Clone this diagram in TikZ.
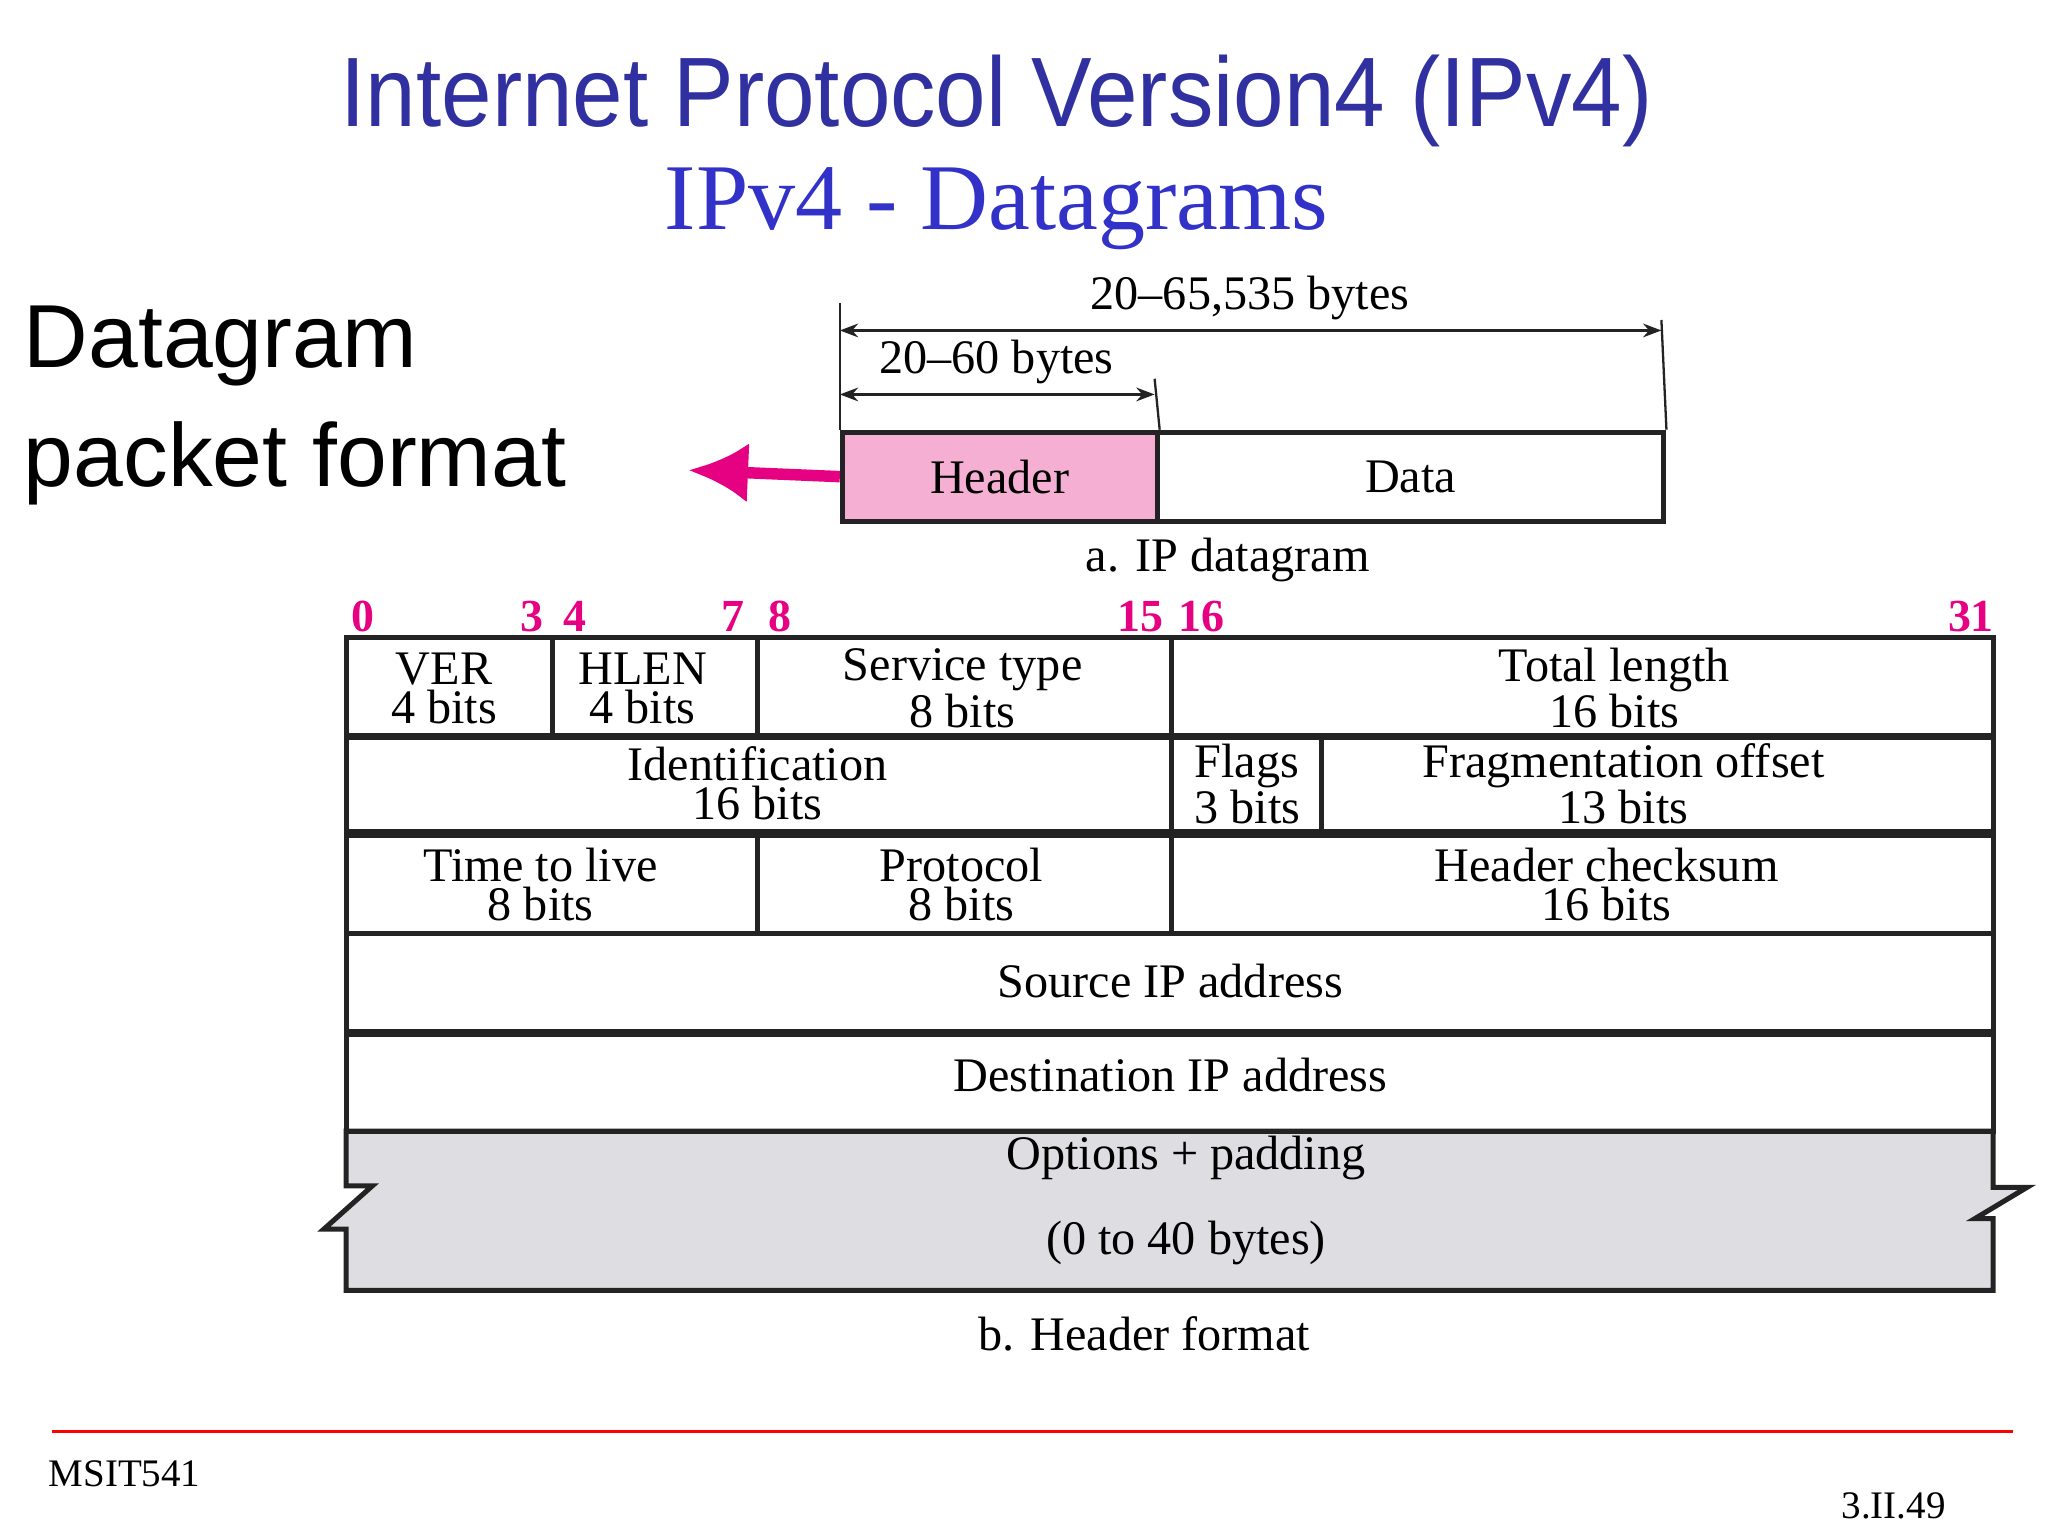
\documentclass[tikz,border=0pt]{standalone}
\usepackage{fontspec}
\usetikzlibrary{arrows.meta}
\setmainfont{Liberation Serif}
\setsansfont{Liberation Sans}
\definecolor{ttl}{RGB}{48,48,160}
\definecolor{sub}{RGB}{50,50,200}
\definecolor{mag}{RGB}{230,0,130}
\definecolor{pinkf}{RGB}{245,175,210}
\definecolor{grayf}{RGB}{222,222,226}
\definecolor{edge}{RGB}{35,35,35}
\tikzset{
  txt/.style={font=\fontsize{21}{17}\selectfont, align=center, inner sep=0pt},
  bitn/.style={font=\fontsize{20}{20}\selectfont\bfseries, text=mag, inner sep=0pt},
  cell/.style={draw=edge, line width=2.2pt},
  dim/.style={{Stealth[length=8pt]}-{Stealth[length=8pt]}, line width=1pt, draw=edge},
  tick/.style={line width=1pt, draw=edge}
}
\begin{document}
\begin{tikzpicture}[x=0.02cm,y=-0.02cm]
\useasboundingbox (0,0) rectangle (1568,1176);
% titles
\node[text=ttl, font=\sffamily\fontsize{43}{43}\selectfont] (title) at (763,77) {\scalebox{0.92}[1]{Internet Protocol Version4 (IPv4)}};
\node[text=sub, font=\fontsize{41}{41}\selectfont] (subtitle) at (763,160) {IPv4 - Datagrams};
\node[anchor=west, font=\sffamily\fontsize{39}{39}\selectfont, inner sep=0pt] (lbl1) at (18,265) {Datagram};
\node[anchor=west, font=\sffamily\fontsize{39}{39}\selectfont, inner sep=0pt] (lbl2) at (18,355) {packet format};
% datagram
\node[cell, fill=pinkf, minimum width=241*0.02cm, minimum height=68*0.02cm, anchor=north west, txt] (hdr) at (643,329) {Header};
\node[cell, minimum width=388*0.02cm, minimum height=68*0.02cm, anchor=north west, txt] (data) at (884,329) {Data};
\coordinate (arrend) at (527,360);
\draw[mag, line width=5pt, -{Latex[length=26pt,width=26pt]}] (hdr.west) -- (arrend);
\coordinate (t1) at (643,232); \coordinate (t2) at (1272,245); \coordinate (t3) at (884,290);
\draw[tick] (hdr.north west) -- (t1);
\draw[tick] (data.north east) -- (t2);
\draw[tick] (hdr.north east) -- (t3);
\coordinate (d1a) at (643,253); \coordinate (d1b) at (1272,253);
\coordinate (d2a) at (643,302); \coordinate (d2b) at (884,302);
\draw[dim] (d1a) -- (d1b);
\draw[dim] (d2a) -- (d2b);
\node[txt] (l1) at (957,228) {20--65,535 bytes};
\node[txt] (l2) at (763,277) {20--60 bytes};
\node[txt] (capa) at (940,429) {a. IP datagram};
% bit numbers
\node[bitn] (b0) at (278,472) {0};
\node[bitn] (b3) at (407,472) {3};
\node[bitn] (b4) at (440,472) {4};
\node[bitn] (b7) at (561,472) {7};
\node[bitn] (b8) at (597,472) {8};
\node[bitn] (b15) at (873,472) {15};
\node[bitn] (b16) at (920,472) {16};
\node[bitn] (b31) at (1509,472) {31};
% options row
\draw[cell, fill=grayf] (265,866) -- (1526,866) -- (1526,909) -- (1552,909) -- (1512,933) -- (1526,933) -- (1526,988) -- (265,988) -- (265,941) -- (248,941) -- (285,908) -- (265,908) -- cycle;
% rows
\draw[cell] (265,488) rectangle (1526,563);
\draw[cell] (265,565) rectangle (1526,637);
\draw[cell] (265,640) rectangle (1526,715);
\draw[cell] (265,715) rectangle (1526,790);
\draw[cell] (265,792) rectangle (1526,866);
\draw[cell] (423,488) -- (423,563);
\draw[cell] (580,488) -- (580,563);
\draw[cell] (897,488) -- (897,563);
\draw[cell] (897,565) -- (897,637);
\draw[cell] (1012,565) -- (1012,637);
\draw[cell] (580,640) -- (580,715);
\draw[cell] (897,640) -- (897,715);
% labels
\node[txt] (ver) at (340,527) {VER\\4 bits};
\node[txt] (hlen) at (492,527) {HLEN\\4 bits};
\node[txt] (svc) at (737,527) {Service type\\8 bits};
\node[txt] (tot) at (1236,527) {Total length\\16 bits};
\node[txt] (ident) at (580,600) {Identification\\16 bits};
\node[txt, align=left] (flags) at (955,600) {Flags\\3 bits};
\node[txt] (frag) at (1243,600) {Fragmentation offset\\13 bits};
\node[txt] (ttl) at (414,677) {Time to live\\8 bits};
\node[txt] (proto) at (736,677) {Protocol\\8 bits};
\node[txt] (chk) at (1230,677) {Header checksum\\16 bits};
\node[txt] (src) at (896,751) {Source IP address};
\node[txt] (dst) at (896,823) {Destination IP address};
\node[txt, font=\fontsize{21}{37}\selectfont] (opt) at (908,919) {Options + padding\\(0 to 40 bytes)};
\node[txt] (capb) at (876,1021) {b. Header format};
% footer
\coordinate (f1) at (40,1096); \coordinate (f2) at (1541,1096);
\draw[red, line width=1.6pt] (f1) -- (f2);
\node[anchor=west, font=\fontsize{17}{17}\selectfont, inner sep=0pt] (msit) at (37,1128) {MSIT541};
\node[anchor=east, font=\fontsize{17}{17}\selectfont, inner sep=0pt] (pg) at (1490,1153) {3.II.49};
\end{tikzpicture}
\end{document}
